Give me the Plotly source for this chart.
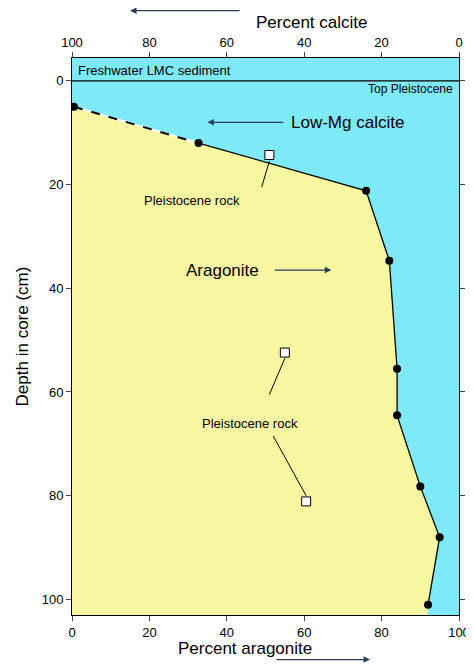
import plotly.graph_objects as go

arag = [0.5, 32.7, 76, 82, 84, 84, 90, 95, 92]
depth = [5, 12, 21.2, 34.7, 55.5, 64.5, 78.2, 88, 101]
rock_x = [51, 55, 60.5]
rock_d = [14.3, 52.4, 81.1]
xticks = [0, 20, 40, 60, 80, 100]
yticks = [0, 20, 40, 60, 80, 100]
YMIN, YMAX = -4.4, 103

fig = go.Figure()
fx = [0] + arag + [91.8, 0]
fy = [depth[0]] + depth + [YMAX, YMAX]
fig.add_trace(go.Scatter(x=fx, y=fy, fill="toself", fillcolor="#F7F7A1",
                         line=dict(width=0), mode="lines", hoverinfo="skip"))
fig.add_trace(go.Scatter(x=arag[:2], y=depth[:2], mode="lines",
                         line=dict(color="white", width=2)))
fig.add_trace(go.Scatter(x=arag[:2], y=depth[:2], mode="lines",
                         line=dict(color="black", width=2, dash="dash")))
fig.add_trace(go.Scatter(x=arag[1:], y=depth[1:], mode="lines",
                         line=dict(color="black", width=1.3)))
fig.add_trace(go.Scatter(x=arag, y=depth, mode="markers",
                         marker=dict(color="black", size=8)))
for lx, ly in [([49, 51], [20.5, 15.5]), ([55, 51], [53.5, 60.5]), ([52, 60.5], [68.5, 80])]:
    fig.add_trace(go.Scatter(x=lx, y=ly, mode="lines", line=dict(color="black", width=1)))
fig.add_trace(go.Scatter(x=rock_x, y=rock_d, mode="markers",
                         marker=dict(symbol="square", color="white", size=9,
                                     line=dict(color="black", width=1))))
fig.add_trace(go.Scatter(x=[0, 100], y=[0, 0], mode="lines",
                         line=dict(color="black", width=1.3)))

font = "Liberation Sans"
ann = [
    dict(x=1, y=-2, text="Freshwater LMC sediment", xanchor="left", font=dict(size=13)),
    dict(x=99, y=1.5, text="Top Pleistocene", xanchor="right", font=dict(size=12)),
    dict(x=56, y=8, text="Low-Mg calcite", xanchor="left", font=dict(size=17)),
    dict(x=39, y=36.5, text="Aragonite", xanchor="center", font=dict(size=17)),
    dict(x=31, y=23, text="Pleistocene rock", font=dict(size=13)),
    dict(x=46, y=66, text="Pleistocene rock", font=dict(size=13)),
]
for a in ann:
    a.update(xref="x", yref="y", showarrow=False)
arrows = [((35, 8), (55, 8)), ((67, 36.5), (52, 36.5))]
for (x, y), (ax, ay) in arrows:
    ann.append(dict(x=x, y=y, ax=ax, ay=ay, xref="x", yref="y", axref="x", ayref="y",
                    showarrow=True, arrowhead=2, arrowwidth=1.3, text=""))
ann.append(dict(x=0.15, y=1.085, ax=111, ay=0, xref="paper", yref="paper",
                showarrow=True, arrowhead=2, arrowwidth=1.3, text=""))
ann.append(dict(x=0.62, y=1.085, text="Percent calcite", xref="paper", yref="paper",
                showarrow=False, font=dict(size=17)))
ann.append(dict(x=0.27, y=-0.08, text="Percent aragonite", xref="paper", yref="paper",
                showarrow=False, font=dict(size=17)))
ann.append(dict(x=0.77, y=-0.08, ax=-95, ay=0, xref="paper", yref="paper",
                showarrow=True, arrowhead=2, arrowwidth=1.3, text=""))

fig.update_layout(
    width=474, height=664, margin=dict(l=64, r=13, t=50, b=57),
    plot_bgcolor="#7FEAF7", paper_bgcolor="white", showlegend=False,
    font=dict(family=font, color="black", size=13),
    annotations=ann,
    xaxis=dict(range=[0, 100], tickvals=xticks, ticks="outside", showgrid=False,
               zeroline=False, showline=True, linecolor="black", mirror=True),
    xaxis2=dict(range=[100, 0], tickvals=xticks, ticks="outside", overlaying="x",
                side="top", showgrid=False, zeroline=False),
    yaxis=dict(range=[YMAX, YMIN], tickvals=yticks, ticks="outside", showgrid=False,
               zeroline=False, showline=True, linecolor="black", mirror="ticks",
               title=dict(text="Depth in core (cm)", font=dict(size=17), standoff=8)),
)
fig.add_trace(go.Scatter(x=[50], y=[50], xaxis="x2", mode="markers",
                         marker=dict(opacity=0), hoverinfo="skip"))
fig.write_html("out.html")
